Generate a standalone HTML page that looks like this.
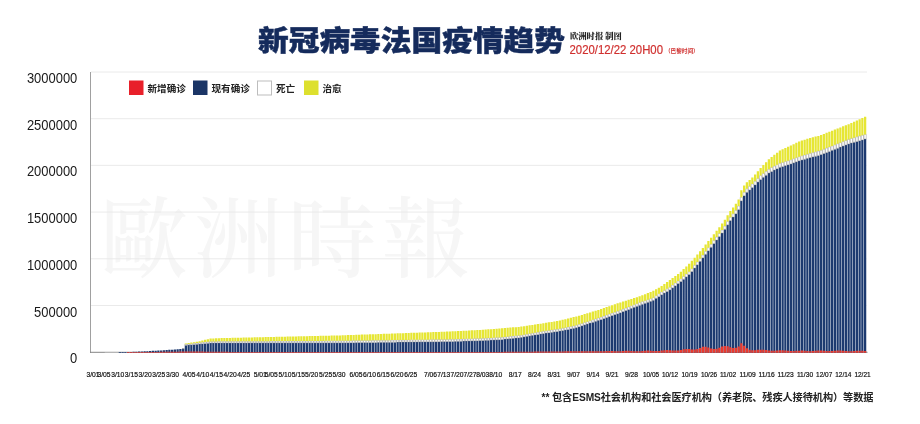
<!DOCTYPE html>
<html lang="zh"><head><meta charset="utf-8"><title>新冠病毒法国疫情趋势</title>
<style>
html,body{margin:0;padding:0;background:#fff}
body{width:920px;height:424px;overflow:hidden;position:relative;font-family:"Liberation Sans","Noto Sans CJK SC",sans-serif}
svg{position:absolute;left:0;top:0;display:block}
.t{font-family:"Liberation Sans","Noto Sans CJK SC",sans-serif}
.yl text{font-size:14px;fill:#1a1a1a;text-anchor:end}
.xl text{font-size:8.1px;fill:#111;stroke:#111;stroke-width:0.22px}
.g line{stroke:#e8e8e8;stroke-width:0.9}
.lg text{font-size:9.6px;fill:#222;font-weight:700}
</style></head><body>
<svg width="920" height="424" viewBox="0 0 920 424" class="t">
<rect width="920" height="424" fill="#fff"/>
<text x="100" y="270" font-family="'Liberation Serif','Noto Serif CJK SC',serif" font-weight="500" font-size="88" fill="#f6f6f6" textLength="370" lengthAdjust="spacing">歐洲時報</text>
<g class="g"><line x1="91" x2="867" y1="305.5" y2="305.5"/><line x1="91" x2="867" y1="258.8" y2="258.8"/><line x1="91" x2="867" y1="212.1" y2="212.1"/><line x1="91" x2="867" y1="165.4" y2="165.4"/><line x1="91" x2="867" y1="118.7" y2="118.7"/><line x1="91" x2="867" y1="72" y2="72"/></g>
<path d="M90.5 72V352.7" fill="none" stroke="#a0a0a0" stroke-width="1"/><path d="M90 352.3H867.5" fill="none" stroke="#777" stroke-width="0.9"/>
<path fill="#fff" d="M91 352.2V352.19h2.75V352.2zM93.75 352.2V352.18h2.75V352.2zM96.5 352.2V352.16h2.75V352.2zM99.25 352.2V352.15h2.75V352.2zM102 352.2V352.13h2.75V352.2zM104.75 352.2V352.12h2.75V352.2zM107.5 352.2V352.1h2.75V352.2zM110.25 352.2V352.09h2.75V352.2zM113 352.2V352.07h2.75V352.2zM115.75 352.2V352.06h2.75V352.2zM118.5 352.2V352.04h2.75V352.2zM121.25 352.2V352.03h2.75V352.2zM124 352.2V352.01h2.75V352.2zM126.75 352.2V351.99h2.75V352.2zM129.5 352.2V351.88h2.75V352.2zM132.25 352.2V351.77h2.75V352.2zM135 352.2V351.65h2.75V352.2zM137.75 352.2V351.54h2.75V352.2zM140.5 352.2V351.41h2.75V352.2zM143.25 352.2V351.27h2.75V352.2zM146 352.2V351.13h2.75V352.2zM148.75 352.2V350.99h2.75V352.2zM151.5 352.2V350.85h2.75V352.2zM154.25 352.2V350.7h2.75V352.2zM157 352.2V350.55h2.75V352.2zM159.75 352.2V350.41h2.75V352.2zM162.5 352.2V350.26h2.75V352.2zM165.25 352.2V350.07h2.75V352.2zM168 352.2V349.85h2.75V352.2zM170.75 352.2V349.63h2.75V352.2zM173.5 352.2V349.41h2.75V352.2zM176.25 352.2V349.18h2.75V352.2zM179 352.2V348.96h2.75V352.2zM181.75 352.2V348.73h2.75V352.2zM184.5 352.2V343.48h2.75V352.2zM187.25 352.2V343.03h2.75V352.2zM190 352.2V342.59h2.75V352.2zM192.75 352.2V342.15h2.75V352.2zM195.5 352.2V341.7h2.75V352.2zM198.25 352.2V341.26h2.75V352.2zM201 352.2V340.58h2.75V352.2zM203.75 352.2V339.87h2.75V352.2zM206.5 352.2V339.15h2.75V352.2zM209.25 352.2V338.57h2.75V352.2zM212 352.2V338.43h2.75V352.2zM214.75 352.2V338.29h2.75V352.2zM217.5 352.2V338.18h2.75V352.2zM220.25 352.2V338.12h2.75V352.2zM223 352.2V338.05h2.75V352.2zM225.75 352.2V337.99h2.75V352.2zM228.5 352.2V337.93h2.75V352.2zM231.25 352.2V337.86h2.75V352.2zM234 352.2V337.8h2.75V352.2zM236.75 352.2V337.74h2.75V352.2zM239.5 352.2V337.68h2.75V352.2zM242.25 352.2V337.61h2.75V352.2zM245 352.2V337.55h2.75V352.2zM247.75 352.2V337.49h2.75V352.2zM250.5 352.2V337.42h2.75V352.2zM253.25 352.2V337.36h2.75V352.2zM256 352.2V337.3h2.75V352.2zM258.75 352.2V337.23h2.75V352.2zM261.5 352.2V337.17h2.75V352.2zM264.25 352.2V337.11h2.75V352.2zM267 352.2V337.04h2.75V352.2zM269.75 352.2V336.98h2.75V352.2zM272.5 352.2V336.92h2.75V352.2zM275.25 352.2V336.85h2.75V352.2zM278 352.2V336.79h2.75V352.2zM280.75 352.2V336.73h2.75V352.2zM283.5 352.2V336.67h2.75V352.2zM286.25 352.2V336.6h2.75V352.2zM289 352.2V336.54h2.75V352.2zM291.75 352.2V336.48h2.75V352.2zM294.5 352.2V336.41h2.75V352.2zM297.25 352.2V336.35h2.75V352.2zM300 352.2V336.29h2.75V352.2zM302.75 352.2V336.22h2.75V352.2zM305.5 352.2V336.16h2.75V352.2zM308.25 352.2V336.1h2.75V352.2zM311 352.2V336.03h2.75V352.2zM313.75 352.2V335.97h2.75V352.2zM316.5 352.2V335.91h2.75V352.2zM319.25 352.2V335.84h2.75V352.2zM322 352.2V335.78h2.75V352.2zM324.75 352.2V335.72h2.75V352.2zM327.5 352.2V335.66h2.75V352.2zM330.25 352.2V335.59h2.75V352.2zM333 352.2V335.53h2.75V352.2zM335.75 352.2V335.47h2.75V352.2zM338.5 352.2V335.4h2.75V352.2zM341.25 352.2V335.31h2.75V352.2zM344 352.2V335.21h2.75V352.2zM346.75 352.2V335.11h2.75V352.2zM349.5 352.2V335.01h2.75V352.2zM352.25 352.2V334.92h2.75V352.2zM355 352.2V334.82h2.75V352.2zM357.75 352.2V334.72h2.75V352.2zM360.5 352.2V334.62h2.75V352.2zM363.25 352.2V334.53h2.75V352.2zM366 352.2V334.43h2.75V352.2zM368.75 352.2V334.33h2.75V352.2zM371.5 352.2V334.23h2.75V352.2zM374.25 352.2V334.14h2.75V352.2zM377 352.2V334.04h2.75V352.2zM379.75 352.2V333.94h2.75V352.2zM382.5 352.2V333.84h2.75V352.2zM385.25 352.2V333.75h2.75V352.2zM388 352.2V333.65h2.75V352.2zM390.75 352.2V333.55h2.75V352.2zM393.5 352.2V333.45h2.75V352.2zM396.25 352.2V333.36h2.75V352.2zM399 352.2V333.26h2.75V352.2zM401.75 352.2V333.16h2.75V352.2zM404.5 352.2V333.06h2.75V352.2zM407.25 352.2V332.97h2.75V352.2zM410 352.2V332.87h2.75V352.2zM412.75 352.2V332.77h2.75V352.2zM415.5 352.2V332.67h2.75V352.2zM418.25 352.2V332.58h2.75V352.2zM421 352.2V332.48h2.75V352.2zM423.75 352.2V332.38h2.75V352.2zM426.5 352.2V332.28h2.75V352.2zM429.25 352.2V332.19h2.75V352.2zM432 352.2V332.09h2.75V352.2zM434.75 352.2V331.99h2.75V352.2zM437.5 352.2V331.89h2.75V352.2zM440.25 352.2V331.8h2.75V352.2zM443 352.2V331.7h2.75V352.2zM445.75 352.2V331.6h2.75V352.2zM448.5 352.2V331.5h2.75V352.2zM451.25 352.2V331.36h2.75V352.2zM454 352.2V331.22h2.75V352.2zM456.75 352.2V331.08h2.75V352.2zM459.5 352.2V330.94h2.75V352.2zM462.25 352.2V330.8h2.75V352.2zM465 352.2V330.66h2.75V352.2zM467.75 352.2V330.51h2.75V352.2zM470.5 352.2V330.37h2.75V352.2zM473.25 352.2V330.23h2.75V352.2zM476 352.2V330.09h2.75V352.2zM478.75 352.2V329.95h2.75V352.2zM481.5 352.2V329.81h2.75V352.2zM484.25 352.2V329.58h2.75V352.2zM487 352.2V329.36h2.75V352.2zM489.75 352.2V329.13h2.75V352.2zM492.5 352.2V328.9h2.75V352.2zM495.25 352.2V328.68h2.75V352.2zM498 352.2V328.45h2.75V352.2zM500.75 352.2V328.23h2.75V352.2zM503.5 352.2V328.01h2.75V352.2zM506.25 352.2V327.79h2.75V352.2zM509 352.2V327.57h2.75V352.2zM511.75 352.2V327.35h2.75V352.2zM514.5 352.2V327.13h2.75V352.2zM517.25 352.2V326.91h2.75V352.2zM520 352.2V326.59h2.75V352.2zM522.75 352.2V326.18h2.75V352.2zM525.5 352.2V325.77h2.75V352.2zM528.25 352.2V325.36h2.75V352.2zM531 352.2V324.94h2.75V352.2zM533.75 352.2V324.53h2.75V352.2zM536.5 352.2V324.12h2.75V352.2zM539.25 352.2V323.7h2.75V352.2zM542 352.2V323.24h2.75V352.2zM544.75 352.2V322.79h2.75V352.2zM547.5 352.2V322.34h2.75V352.2zM550.25 352.2V321.88h2.75V352.2zM553 352.2V321.43h2.75V352.2zM555.75 352.2V320.97h2.75V352.2zM558.5 352.2V320.52h2.75V352.2zM561.25 352.2V319.83h2.75V352.2zM564 352.2V319.14h2.75V352.2zM566.75 352.2V318.44h2.75V352.2zM569.5 352.2V317.74h2.75V352.2zM572.25 352.2V317.05h2.75V352.2zM575 352.2V316.38h2.75V352.2zM577.75 352.2V315.71h2.75V352.2zM580.5 352.2V314.93h2.75V352.2zM583.25 352.2V314.09h2.75V352.2zM586 352.2V313.25h2.75V352.2zM588.75 352.2V312.41h2.75V352.2zM591.5 352.2V311.57h2.75V352.2zM594.25 352.2V310.73h2.75V352.2zM597 352.2V309.9h2.75V352.2zM599.75 352.2V309.01h2.75V352.2zM602.5 352.2V308.06h2.75V352.2zM605.25 352.2V307.11h2.75V352.2zM608 352.2V306.17h2.75V352.2zM610.75 352.2V305.22h2.75V352.2zM613.5 352.2V304.27h2.75V352.2zM616.25 352.2V303.32h2.75V352.2zM619 352.2V302.38h2.75V352.2zM621.75 352.2V301.52h2.75V352.2zM624.5 352.2V300.65h2.75V352.2zM627.25 352.2V299.78h2.75V352.2zM630 352.2V298.92h2.75V352.2zM632.75 352.2V298.05h2.75V352.2zM635.5 352.2V297.18h2.75V352.2zM638.25 352.2V296.32h2.75V352.2zM641 352.2V295.25h2.75V352.2zM643.75 352.2V294.15h2.75V352.2zM646.5 352.2V293.05h2.75V352.2zM649.25 352.2V291.95h2.75V352.2zM652 352.2V290.8h2.75V352.2zM654.75 352.2V289.3h2.75V352.2zM657.5 352.2V287.81h2.75V352.2zM660.25 352.2V286.03h2.75V352.2zM663 352.2V284.05h2.75V352.2zM665.75 352.2V282.07h2.75V352.2zM668.5 352.2V280.09h2.75V352.2zM671.25 352.2V278.06h2.75V352.2zM674 352.2V276.02h2.75V352.2zM676.75 352.2V273.99h2.75V352.2zM679.5 352.2V271.76h2.75V352.2zM682.25 352.2V269.12h2.75V352.2zM685 352.2V266.48h2.75V352.2zM687.75 352.2V263.84h2.75V352.2zM690.5 352.2V260.84h2.75V352.2zM693.25 352.2V257.68h2.75V352.2zM696 352.2V254.52h2.75V352.2zM698.75 352.2V251.34h2.75V352.2zM701.5 352.2V247.93h2.75V352.2zM704.25 352.2V244.52h2.75V352.2zM707 352.2V241.1h2.75V352.2zM709.75 352.2V237.69h2.75V352.2zM712.5 352.2V234.19h2.75V352.2zM715.25 352.2V230.66h2.75V352.2zM718 352.2V227.14h2.75V352.2zM720.75 352.2V223.61h2.75V352.2zM723.5 352.2V219.79h2.75V352.2zM726.25 352.2V215.34h2.75V352.2zM729 352.2V211.01h2.75V352.2zM731.75 352.2V207.41h2.75V352.2zM734.5 352.2V203.82h2.75V352.2zM737.25 352.2V199.46h2.75V352.2zM740 352.2V190.16h2.75V352.2zM742.75 352.2V185.49h2.75V352.2zM745.5 352.2V182.36h2.75V352.2zM748.25 352.2V179.95h2.75V352.2zM751 352.2V177.55h2.75V352.2zM753.75 352.2V174.48h2.75V352.2zM756.5 352.2V171.21h2.75V352.2zM759.25 352.2V167.95h2.75V352.2zM762 352.2V165.05h2.75V352.2zM764.75 352.2V162.2h2.75V352.2zM767.5 352.2V159.36h2.75V352.2zM770.25 352.2V156.93h2.75V352.2zM773 352.2V154.79h2.75V352.2zM775.75 352.2V152.64h2.75V352.2zM778.5 352.2V150.5h2.75V352.2zM781.25 352.2V149.19h2.75V352.2zM784 352.2V147.93h2.75V352.2zM786.75 352.2V146.66h2.75V352.2zM789.5 352.2V145.4h2.75V352.2zM792.25 352.2V144.13h2.75V352.2zM795 352.2V142.87h2.75V352.2zM797.75 352.2V141.6h2.75V352.2zM800.5 352.2V140.6h2.75V352.2zM803.25 352.2V139.72h2.75V352.2zM806 352.2V138.84h2.75V352.2zM808.75 352.2V137.97h2.75V352.2zM811.5 352.2V137.28h2.75V352.2zM814.25 352.2V136.59h2.75V352.2zM817 352.2V135.91h2.75V352.2zM819.75 352.2V135.05h2.75V352.2zM822.5 352.2V133.96h2.75V352.2zM825.25 352.2V132.87h2.75V352.2zM828 352.2V131.78h2.75V352.2zM830.75 352.2V130.69h2.75V352.2zM833.5 352.2V129.6h2.75V352.2zM836.25 352.2V128.51h2.75V352.2zM839 352.2V127.42h2.75V352.2zM841.75 352.2V126.33h2.75V352.2zM844.5 352.2V125.24h2.75V352.2zM847.25 352.2V124.15h2.75V352.2zM850 352.2V122.97h2.75V352.2zM852.75 352.2V121.7h2.75V352.2zM855.5 352.2V120.43h2.75V352.2zM858.25 352.2V119.17h2.75V352.2zM861 352.2V117.9h2.75V352.2zM863.75 352.2V116.63h2.75V352.2z"/>
<path fill="#1d3a70" d="M118.75 352.7V352.04h2.25V352.7zM121.5 352.7V352.03h2.25V352.7zM124.25 352.7V352.01h2.25V352.7zM127 352.7V351.99h2.25V352.7zM129.75 352.7V351.88h2.25V352.7zM132.5 352.7V351.77h2.25V352.7zM135.25 352.7V351.65h2.25V352.7zM138 352.7V351.54h2.25V352.7zM140.75 352.7V351.41h2.25V352.7zM143.5 352.7V351.27h2.25V352.7zM146.25 352.7V351.13h2.25V352.7zM149 352.7V350.99h2.25V352.7zM151.75 352.7V350.85h2.25V352.7zM154.5 352.7V350.7h2.25V352.7zM157.25 352.7V350.55h2.25V352.7zM160 352.7V350.41h2.25V352.7zM162.75 352.7V350.26h2.25V352.7zM165.5 352.7V350.07h2.25V352.7zM168.25 352.7V349.85h2.25V352.7zM171 352.7V349.63h2.25V352.7zM173.75 352.7V349.41h2.25V352.7zM176.5 352.7V349.18h2.25V352.7zM179.25 352.7V348.96h2.25V352.7zM182 352.7V348.73h2.25V352.7zM184.75 352.7V345.27h2.25V352.7zM187.5 352.7V345h2.25V352.7zM190.25 352.7V344.73h2.25V352.7zM193 352.7V344.47h2.25V352.7zM195.75 352.7V344.2h2.25V352.7zM198.5 352.7V343.94h2.25V352.7zM201.25 352.7V343.69h2.25V352.7zM204 352.7V343.44h2.25V352.7zM206.75 352.7V343.19h2.25V352.7zM209.5 352.7V342.99h2.25V352.7zM212.25 352.7V342.96h2.25V352.7zM215 352.7V342.92h2.25V352.7zM217.75 352.7V342.9h2.25V352.7zM220.5 352.7V342.9h2.25V352.7zM223.25 352.7V342.89h2.25V352.7zM226 352.7V342.89h2.25V352.7zM228.75 352.7V342.89h2.25V352.7zM231.5 352.7V342.89h2.25V352.7zM234.25 352.7V342.89h2.25V352.7zM237 352.7V342.88h2.25V352.7zM239.75 352.7V342.88h2.25V352.7zM242.5 352.7V342.88h2.25V352.7zM245.25 352.7V342.88h2.25V352.7zM248 352.7V342.87h2.25V352.7zM250.75 352.7V342.87h2.25V352.7zM253.5 352.7V342.87h2.25V352.7zM256.25 352.7V342.87h2.25V352.7zM259 352.7V342.87h2.25V352.7zM261.75 352.7V342.86h2.25V352.7zM264.5 352.7V342.86h2.25V352.7zM267.25 352.7V342.86h2.25V352.7zM270 352.7V342.86h2.25V352.7zM272.75 352.7V342.85h2.25V352.7zM275.5 352.7V342.85h2.25V352.7zM278.25 352.7V342.85h2.25V352.7zM281 352.7V342.85h2.25V352.7zM283.75 352.7V342.85h2.25V352.7zM286.5 352.7V342.84h2.25V352.7zM289.25 352.7V342.84h2.25V352.7zM292 352.7V342.84h2.25V352.7zM294.75 352.7V342.84h2.25V352.7zM297.5 352.7V342.83h2.25V352.7zM300.25 352.7V342.83h2.25V352.7zM303 352.7V342.83h2.25V352.7zM305.75 352.7V342.83h2.25V352.7zM308.5 352.7V342.82h2.25V352.7zM311.25 352.7V342.82h2.25V352.7zM314 352.7V342.82h2.25V352.7zM316.75 352.7V342.82h2.25V352.7zM319.5 352.7V342.82h2.25V352.7zM322.25 352.7V342.81h2.25V352.7zM325 352.7V342.81h2.25V352.7zM327.75 352.7V342.81h2.25V352.7zM330.5 352.7V342.81h2.25V352.7zM333.25 352.7V342.8h2.25V352.7zM336 352.7V342.8h2.25V352.7zM338.75 352.7V342.8h2.25V352.7zM341.5 352.7V342.77h2.25V352.7zM344.25 352.7V342.74h2.25V352.7zM347 352.7V342.7h2.25V352.7zM349.75 352.7V342.67h2.25V352.7zM352.5 352.7V342.64h2.25V352.7zM355.25 352.7V342.61h2.25V352.7zM358 352.7V342.57h2.25V352.7zM360.75 352.7V342.54h2.25V352.7zM363.5 352.7V342.51h2.25V352.7zM366.25 352.7V342.48h2.25V352.7zM369 352.7V342.44h2.25V352.7zM371.75 352.7V342.41h2.25V352.7zM374.5 352.7V342.38h2.25V352.7zM377.25 352.7V342.35h2.25V352.7zM380 352.7V342.31h2.25V352.7zM382.75 352.7V342.28h2.25V352.7zM385.5 352.7V342.25h2.25V352.7zM388.25 352.7V342.22h2.25V352.7zM391 352.7V342.18h2.25V352.7zM393.75 352.7V342.15h2.25V352.7zM396.5 352.7V342.12h2.25V352.7zM399.25 352.7V342.09h2.25V352.7zM402 352.7V342.05h2.25V352.7zM404.75 352.7V342.02h2.25V352.7zM407.5 352.7V341.99h2.25V352.7zM410.25 352.7V341.96h2.25V352.7zM413 352.7V341.92h2.25V352.7zM415.75 352.7V341.89h2.25V352.7zM418.5 352.7V341.86h2.25V352.7zM421.25 352.7V341.83h2.25V352.7zM424 352.7V341.79h2.25V352.7zM426.75 352.7V341.76h2.25V352.7zM429.5 352.7V341.73h2.25V352.7zM432.25 352.7V341.7h2.25V352.7zM435 352.7V341.66h2.25V352.7zM437.75 352.7V341.63h2.25V352.7zM440.5 352.7V341.6h2.25V352.7zM443.25 352.7V341.57h2.25V352.7zM446 352.7V341.53h2.25V352.7zM448.75 352.7V341.5h2.25V352.7zM451.5 352.7V341.42h2.25V352.7zM454.25 352.7V341.34h2.25V352.7zM457 352.7V341.25h2.25V352.7zM459.75 352.7V341.17h2.25V352.7zM462.5 352.7V341.09h2.25V352.7zM465.25 352.7V341h2.25V352.7zM468 352.7V340.92h2.25V352.7zM470.75 352.7V340.84h2.25V352.7zM473.5 352.7V340.75h2.25V352.7zM476.25 352.7V340.67h2.25V352.7zM479 352.7V340.59h2.25V352.7zM481.75 352.7V340.5h2.25V352.7zM484.5 352.7V340.36h2.25V352.7zM487.25 352.7V340.22h2.25V352.7zM490 352.7V340.07h2.25V352.7zM492.75 352.7V339.92h2.25V352.7zM495.5 352.7V339.78h2.25V352.7zM498.25 352.7V339.63h2.25V352.7zM501 352.7V339.39h2.25V352.7zM503.75 352.7V339.11h2.25V352.7zM506.5 352.7V338.84h2.25V352.7zM509.25 352.7V338.56h2.25V352.7zM512 352.7V338.29h2.25V352.7zM514.75 352.7V338.01h2.25V352.7zM517.5 352.7V337.74h2.25V352.7zM520.25 352.7V337.35h2.25V352.7zM523 352.7V336.86h2.25V352.7zM525.75 352.7V336.36h2.25V352.7zM528.5 352.7V335.87h2.25V352.7zM531.25 352.7V335.37h2.25V352.7zM534 352.7V334.88h2.25V352.7zM536.75 352.7V334.38h2.25V352.7zM539.5 352.7V333.91h2.25V352.7zM542.25 352.7V333.49h2.25V352.7zM545 352.7V333.08h2.25V352.7zM547.75 352.7V332.67h2.25V352.7zM550.5 352.7V332.26h2.25V352.7zM553.25 352.7V331.84h2.25V352.7zM556 352.7V331.43h2.25V352.7zM558.75 352.7V331.02h2.25V352.7zM561.5 352.7V330.48h2.25V352.7zM564.25 352.7V329.93h2.25V352.7zM567 352.7V329.38h2.25V352.7zM569.75 352.7V328.82h2.25V352.7zM572.5 352.7V328.22h2.25V352.7zM575.25 352.7V327.44h2.25V352.7zM578 352.7V326.65h2.25V352.7zM580.75 352.7V325.78h2.25V352.7zM583.5 352.7V324.87h2.25V352.7zM586.25 352.7V323.97h2.25V352.7zM589 352.7V323.06h2.25V352.7zM591.75 352.7V322.15h2.25V352.7zM594.5 352.7V321.24h2.25V352.7zM597.25 352.7V320.34h2.25V352.7zM600 352.7V319.41h2.25V352.7zM602.75 352.7V318.44h2.25V352.7zM605.5 352.7V317.48h2.25V352.7zM608.25 352.7V316.52h2.25V352.7zM611 352.7V315.56h2.25V352.7zM613.75 352.7V314.59h2.25V352.7zM616.5 352.7V313.63h2.25V352.7zM619.25 352.7V312.65h2.25V352.7zM622 352.7V311.58h2.25V352.7zM624.75 352.7V310.51h2.25V352.7zM627.5 352.7V309.44h2.25V352.7zM630.25 352.7V308.36h2.25V352.7zM633 352.7V307.29h2.25V352.7zM635.75 352.7V306.22h2.25V352.7zM638.5 352.7V305.15h2.25V352.7zM641.25 352.7V304.18h2.25V352.7zM644 352.7V303.23h2.25V352.7zM646.75 352.7V302.27h2.25V352.7zM649.5 352.7V301.32h2.25V352.7zM652.25 352.7V300.24h2.25V352.7zM655 352.7V298.31h2.25V352.7zM657.75 352.7V296.39h2.25V352.7zM660.5 352.7V294.66h2.25V352.7zM663.25 352.7V293.06h2.25V352.7zM666 352.7V291.47h2.25V352.7zM668.75 352.7V289.87h2.25V352.7zM671.5 352.7V287.81h2.25V352.7zM674.25 352.7V285.71h2.25V352.7zM677 352.7V283.62h2.25V352.7zM679.75 352.7V281.46h2.25V352.7zM682.5 352.7V279.15h2.25V352.7zM685.25 352.7V276.85h2.25V352.7zM688 352.7V274.54h2.25V352.7zM690.75 352.7V271.49h2.25V352.7zM693.5 352.7V268.11h2.25V352.7zM696.25 352.7V264.73h2.25V352.7zM699 352.7V261.34h2.25V352.7zM701.75 352.7V257.79h2.25V352.7zM704.5 352.7V254.23h2.25V352.7zM707.25 352.7V250.68h2.25V352.7zM710 352.7V247.13h2.25V352.7zM712.75 352.7V243.61h2.25V352.7zM715.5 352.7V240.1h2.25V352.7zM718.25 352.7V236.6h2.25V352.7zM721 352.7V233.09h2.25V352.7zM723.75 352.7V229.29h2.25V352.7zM726.5 352.7V224.84h2.25V352.7zM729.25 352.7V220.53h2.25V352.7zM732 352.7V217.11h2.25V352.7zM734.75 352.7V213.68h2.25V352.7zM737.5 352.7V209.43h2.25V352.7zM740.25 352.7V200.8h2.25V352.7zM743 352.7V195.64h2.25V352.7zM745.75 352.7V192.36h2.25V352.7zM748.5 352.7V189.95h2.25V352.7zM751.25 352.7V187.55h2.25V352.7zM754 352.7V184.88h2.25V352.7zM756.75 352.7V182.12h2.25V352.7zM759.5 352.7V179.38h2.25V352.7zM762.25 352.7V177.21h2.25V352.7zM765 352.7V175.13h2.25V352.7zM767.75 352.7V173.05h2.25V352.7zM770.5 352.7V171.39h2.25V352.7zM773.25 352.7V170.01h2.25V352.7zM776 352.7V168.64h2.25V352.7zM778.75 352.7V167.26h2.25V352.7zM781.5 352.7V166.41h2.25V352.7zM784.25 352.7V165.59h2.25V352.7zM787 352.7V164.76h2.25V352.7zM789.75 352.7V163.88h2.25V352.7zM792.5 352.7V162.86h2.25V352.7zM795.25 352.7V161.84h2.25V352.7zM798 352.7V160.82h2.25V352.7zM800.75 352.7V159.96h2.25V352.7zM803.5 352.7V159.16h2.25V352.7zM806.25 352.7V158.36h2.25V352.7zM809 352.7V157.57h2.25V352.7zM811.75 352.7V156.85h2.25V352.7zM814.5 352.7V156.14h2.25V352.7zM817.25 352.7V155.42h2.25V352.7zM820 352.7V154.56h2.25V352.7zM822.75 352.7V153.5h2.25V352.7zM825.5 352.7V152.44h2.25V352.7zM828.25 352.7V151.38h2.25V352.7zM831 352.7V150.31h2.25V352.7zM833.75 352.7V149.25h2.25V352.7zM836.5 352.7V148.19h2.25V352.7zM839.25 352.7V147.12h2.25V352.7zM842 352.7V146.06h2.25V352.7zM844.75 352.7V145h2.25V352.7zM847.5 352.7V143.93h2.25V352.7zM850.25 352.7V143.01h2.25V352.7zM853 352.7V142.22h2.25V352.7zM855.75 352.7V141.44h2.25V352.7zM858.5 352.7V140.66h2.25V352.7zM861.25 352.7V139.88h2.25V352.7zM864 352.7V139.09h2.25V352.7z"/>
<path fill="#fff" stroke="#8c8c8c" stroke-width="0.45" d="M182 348.73V348.67h2.25V348.73zM184.75 345.27V344.35h2.25V345.27zM187.5 345V344.01h2.25V345zM190.25 344.73V343.68h2.25V344.73zM193 344.47V343.35h2.25V344.47zM195.75 344.2V343.02h2.25V344.2zM198.5 343.94V342.69h2.25V343.94zM201.25 343.69V342.37h2.25V343.69zM204 343.44V342.06h2.25V343.44zM206.75 343.19V341.74h2.25V343.19zM209.5 342.99V341.49h2.25V342.99zM212.25 342.96V341.44h2.25V342.96zM215 342.92V341.4h2.25V342.92zM217.75 342.9V341.37h2.25V342.9zM220.5 342.9V341.35h2.25V342.9zM223.25 342.89V341.34h2.25V342.89zM226 342.89V341.33h2.25V342.89zM228.75 342.89V341.31h2.25V342.89zM231.5 342.89V341.3h2.25V342.89zM234.25 342.89V341.29h2.25V342.89zM237 342.88V341.28h2.25V342.88zM239.75 342.88V341.26h2.25V342.88zM242.5 342.88V341.25h2.25V342.88zM245.25 342.88V341.24h2.25V342.88zM248 342.87V341.22h2.25V342.87zM250.75 342.87V341.21h2.25V342.87zM253.5 342.87V341.2h2.25V342.87zM256.25 342.87V341.19h2.25V342.87zM259 342.87V341.17h2.25V342.87zM261.75 342.86V341.16h2.25V342.86zM264.5 342.86V341.15h2.25V342.86zM267.25 342.86V341.13h2.25V342.86zM270 342.86V341.12h2.25V342.86zM272.75 342.85V341.11h2.25V342.85zM275.5 342.85V341.1h2.25V342.85zM278.25 342.85V341.08h2.25V342.85zM281 342.85V341.07h2.25V342.85zM283.75 342.85V341.06h2.25V342.85zM286.5 342.84V341.04h2.25V342.84zM289.25 342.84V341.03h2.25V342.84zM292 342.84V341.02h2.25V342.84zM294.75 342.84V341.01h2.25V342.84zM297.5 342.83V340.99h2.25V342.83zM300.25 342.83V340.98h2.25V342.83zM303 342.83V340.97h2.25V342.83zM305.75 342.83V340.95h2.25V342.83zM308.5 342.82V340.94h2.25V342.82zM311.25 342.82V340.93h2.25V342.82zM314 342.82V340.92h2.25V342.82zM316.75 342.82V340.9h2.25V342.82zM319.5 342.82V340.89h2.25V342.82zM322.25 342.81V340.88h2.25V342.81zM325 342.81V340.86h2.25V342.81zM327.75 342.81V340.85h2.25V342.81zM330.5 342.81V340.84h2.25V342.81zM333.25 342.8V340.83h2.25V342.8zM336 342.8V340.81h2.25V342.8zM338.75 342.8V340.8h2.25V342.8zM341.5 342.77V340.77h2.25V342.77zM344.25 342.74V340.73h2.25V342.74zM347 342.7V340.69h2.25V342.7zM349.75 342.67V340.66h2.25V342.67zM352.5 342.64V340.62h2.25V342.64zM355.25 342.61V340.59h2.25V342.61zM358 342.57V340.55h2.25V342.57zM360.75 342.54V340.51h2.25V342.54zM363.5 342.51V340.48h2.25V342.51zM366.25 342.48V340.44h2.25V342.48zM369 342.44V340.41h2.25V342.44zM371.75 342.41V340.37h2.25V342.41zM374.5 342.38V340.33h2.25V342.38zM377.25 342.35V340.3h2.25V342.35zM380 342.31V340.26h2.25V342.31zM382.75 342.28V340.23h2.25V342.28zM385.5 342.25V340.19h2.25V342.25zM388.25 342.22V340.15h2.25V342.22zM391 342.18V340.12h2.25V342.18zM393.75 342.15V340.08h2.25V342.15zM396.5 342.12V340.05h2.25V342.12zM399.25 342.09V340.01h2.25V342.09zM402 342.05V339.98h2.25V342.05zM404.75 342.02V339.94h2.25V342.02zM407.5 341.99V339.9h2.25V341.99zM410.25 341.96V339.87h2.25V341.96zM413 341.92V339.83h2.25V341.92zM415.75 341.89V339.8h2.25V341.89zM418.5 341.86V339.76h2.25V341.86zM421.25 341.83V339.72h2.25V341.83zM424 341.79V339.69h2.25V341.79zM426.75 341.76V339.65h2.25V341.76zM429.5 341.73V339.62h2.25V341.73zM432.25 341.7V339.58h2.25V341.7zM435 341.66V339.54h2.25V341.66zM437.75 341.63V339.51h2.25V341.63zM440.5 341.6V339.47h2.25V341.6zM443.25 341.57V339.44h2.25V341.57zM446 341.53V339.4h2.25V341.53zM448.75 341.5V339.36h2.25V341.5zM451.5 341.42V339.28h2.25V341.42zM454.25 341.34V339.19h2.25V341.34zM457 341.25V339.11h2.25V341.25zM459.75 341.17V339.02h2.25V341.17zM462.5 341.09V338.93h2.25V341.09zM465.25 341V338.85h2.25V341zM468 340.92V338.76h2.25V340.92zM470.75 340.84V338.67h2.25V340.84zM473.5 340.75V338.59h2.25V340.75zM476.25 340.67V338.5h2.25V340.67zM479 340.59V338.41h2.25V340.59zM481.75 340.5V338.33h2.25V340.5zM484.5 340.36V338.18h2.25V340.36zM487.25 340.22V338.03h2.25V340.22zM490 340.07V337.88h2.25V340.07zM492.75 339.92V337.73h2.25V339.92zM495.5 339.78V337.58h2.25V339.78zM498.25 339.63V337.43h2.25V339.63zM501 339.39V337.18h2.25V339.39zM503.75 339.11V336.91h2.25V339.11zM506.5 338.84V336.63h2.25V338.84zM509.25 338.56V336.35h2.25V338.56zM512 338.29V336.07h2.25V338.29zM514.75 338.01V335.79h2.25V338.01zM517.5 337.74V335.51h2.25V337.74zM520.25 337.35V335.13h2.25V337.35zM523 336.86V334.63h2.25V336.86zM525.75 336.36V334.13h2.25V336.36zM528.5 335.87V333.63h2.25V335.87zM531.25 335.37V333.13h2.25V335.37zM534 334.88V332.63h2.25V334.88zM536.75 334.38V332.14h2.25V334.38zM539.5 333.91V331.66h2.25V333.91zM542.25 333.49V331.24h2.25V333.49zM545 333.08V330.82h2.25V333.08zM547.75 332.67V330.41h2.25V332.67zM550.5 332.26V329.99h2.25V332.26zM553.25 331.84V329.58h2.25V331.84zM556 331.43V329.16h2.25V331.43zM558.75 331.02V328.74h2.25V331.02zM561.5 330.48V328.2h2.25V330.48zM564.25 329.93V327.64h2.25V329.93zM567 329.38V327.09h2.25V329.38zM569.75 328.82V326.54h2.25V328.82zM572.5 328.22V325.93h2.25V328.22zM575.25 327.44V325.14h2.25V327.44zM578 326.65V324.35h2.25V326.65zM580.75 325.78V323.47h2.25V325.78zM583.5 324.87V322.55h2.25V324.87zM586.25 323.97V321.64h2.25V323.97zM589 323.06V320.72h2.25V323.06zM591.75 322.15V319.8h2.25V322.15zM594.5 321.24V318.88h2.25V321.24zM597.25 320.34V317.96h2.25V320.34zM600 319.41V317.02h2.25V319.41zM602.75 318.44V316.04h2.25V318.44zM605.5 317.48V315.07h2.25V317.48zM608.25 316.52V314.1h2.25V316.52zM611 315.56V313.12h2.25V315.56zM613.75 314.59V312.15h2.25V314.59zM616.5 313.63V311.17h2.25V313.63zM619.25 312.65V310.19h2.25V312.65zM622 311.58V309.1h2.25V311.58zM624.75 310.51V308.02h2.25V310.51zM627.5 309.44V306.93h2.25V309.44zM630.25 308.36V305.85h2.25V308.36zM633 307.29V304.77h2.25V307.29zM635.75 306.22V303.68h2.25V306.22zM638.5 305.15V302.6h2.25V305.15zM641.25 304.18V301.62h2.25V304.18zM644 303.23V300.65h2.25V303.23zM646.75 302.27V299.69h2.25V302.27zM649.5 301.32V298.73h2.25V301.32zM652.25 300.24V297.63h2.25V300.24zM655 298.31V295.7h2.25V298.31zM657.75 296.39V293.76h2.25V296.39zM660.5 294.66V292.02h2.25V294.66zM663.25 293.06V290.41h2.25V293.06zM666 291.47V288.8h2.25V291.47zM668.75 289.87V287.2h2.25V289.87zM671.5 287.81V285.12h2.25V287.81zM674.25 285.71V283.02h2.25V285.71zM677 283.62V280.92h2.25V283.62zM679.75 281.46V278.74h2.25V281.46zM682.5 279.15V276.42h2.25V279.15zM685.25 276.85V274.1h2.25V276.85zM688 274.54V271.78h2.25V274.54zM690.75 271.49V268.73h2.25V271.49zM693.5 268.11V265.33h2.25V268.11zM696.25 264.73V261.94h2.25V264.73zM699 261.34V258.54h2.25V261.34zM701.75 257.79V254.94h2.25V257.79zM704.5 254.23V251.35h2.25V254.23zM707.25 250.68V247.75h2.25V250.68zM710 247.13V244.16h2.25V247.13zM712.75 243.61V240.59h2.25V243.61zM715.5 240.1V237.04h2.25V240.1zM718.25 236.6V233.49h2.25V236.6zM721 233.09V229.94h2.25V233.09zM723.75 229.29V226.09h2.25V229.29zM726.5 224.84V221.61h2.25V224.84zM729.25 220.53V217.26h2.25V220.53zM732 217.11V213.79h2.25V217.11zM734.75 213.68V210.32h2.25V213.68zM737.5 209.43V206.02h2.25V209.43zM740.25 200.8V197.35h2.25V200.8zM743 195.64V192.15h2.25V195.64zM745.75 192.36V188.82h2.25V192.36zM748.5 189.95V186.37h2.25V189.95zM751.25 187.55V183.92h2.25V187.55zM754 184.88V181.21h2.25V184.88zM756.75 182.12V178.42h2.25V182.12zM759.5 179.38V175.62h2.25V179.38zM762.25 177.21V173.41h2.25V177.21zM765 175.13V171.29h2.25V175.13zM767.75 173.05V169.17h2.25V173.05zM770.5 171.39V167.47h2.25V171.39zM773.25 170.01V166.08h2.25V170.01zM776 168.64V164.68h2.25V168.64zM778.75 167.26V163.28h2.25V167.26zM781.5 166.41V162.41h2.25V166.41zM784.25 165.59V161.56h2.25V165.59zM787 164.76V160.71h2.25V164.76zM789.75 163.88V159.8h2.25V163.88zM792.5 162.86V158.76h2.25V162.86zM795.25 161.84V157.72h2.25V161.84zM798 160.82V156.68h2.25V160.82zM800.75 159.96V155.79h2.25V159.96zM803.5 159.16V154.97h2.25V159.16zM806.25 158.36V154.15h2.25V158.36zM809 157.57V153.33h2.25V157.57zM811.75 156.85V152.6h2.25V156.85zM814.5 156.14V151.86h2.25V156.14zM817.25 155.42V151.12h2.25V155.42zM820 154.56V150.24h2.25V154.56zM822.75 153.5V149.16h2.25V153.5zM825.5 152.44V148.07h2.25V152.44zM828.25 151.38V146.98h2.25V151.38zM831 150.31V145.9h2.25V150.31zM833.75 149.25V144.81h2.25V149.25zM836.5 148.19V143.72h2.25V148.19zM839.25 147.12V142.64h2.25V147.12zM842 146.06V141.55h2.25V146.06zM844.75 145V140.47h2.25V145zM847.5 143.93V139.38h2.25V143.93zM850.25 143.01V138.43h2.25V143.01zM853 142.22V137.63h2.25V142.22zM855.75 141.44V136.82h2.25V141.44zM858.5 140.66V136.02h2.25V140.66zM861.25 139.88V135.21h2.25V139.88zM864 139.09V134.4h2.25V139.09z"/>
<path fill="#e6e634" d="M184.75 344.35V343.48h2.25V344.35zM187.5 344.01V343.03h2.25V344.01zM190.25 343.68V342.59h2.25V343.68zM193 343.35V342.15h2.25V343.35zM195.75 343.02V341.7h2.25V343.02zM198.5 342.69V341.26h2.25V342.69zM201.25 342.37V340.58h2.25V342.37zM204 342.06V339.87h2.25V342.06zM206.75 341.74V339.15h2.25V341.74zM209.5 341.49V338.57h2.25V341.49zM212.25 341.44V338.43h2.25V341.44zM215 341.4V338.29h2.25V341.4zM217.75 341.37V338.18h2.25V341.37zM220.5 341.35V338.12h2.25V341.35zM223.25 341.34V338.05h2.25V341.34zM226 341.33V337.99h2.25V341.33zM228.75 341.31V337.93h2.25V341.31zM231.5 341.3V337.86h2.25V341.3zM234.25 341.29V337.8h2.25V341.29zM237 341.28V337.74h2.25V341.28zM239.75 341.26V337.68h2.25V341.26zM242.5 341.25V337.61h2.25V341.25zM245.25 341.24V337.55h2.25V341.24zM248 341.22V337.49h2.25V341.22zM250.75 341.21V337.42h2.25V341.21zM253.5 341.2V337.36h2.25V341.2zM256.25 341.19V337.3h2.25V341.19zM259 341.17V337.23h2.25V341.17zM261.75 341.16V337.17h2.25V341.16zM264.5 341.15V337.11h2.25V341.15zM267.25 341.13V337.04h2.25V341.13zM270 341.12V336.98h2.25V341.12zM272.75 341.11V336.92h2.25V341.11zM275.5 341.1V336.85h2.25V341.1zM278.25 341.08V336.79h2.25V341.08zM281 341.07V336.73h2.25V341.07zM283.75 341.06V336.67h2.25V341.06zM286.5 341.04V336.6h2.25V341.04zM289.25 341.03V336.54h2.25V341.03zM292 341.02V336.48h2.25V341.02zM294.75 341.01V336.41h2.25V341.01zM297.5 340.99V336.35h2.25V340.99zM300.25 340.98V336.29h2.25V340.98zM303 340.97V336.22h2.25V340.97zM305.75 340.95V336.16h2.25V340.95zM308.5 340.94V336.1h2.25V340.94zM311.25 340.93V336.03h2.25V340.93zM314 340.92V335.97h2.25V340.92zM316.75 340.9V335.91h2.25V340.9zM319.5 340.89V335.84h2.25V340.89zM322.25 340.88V335.78h2.25V340.88zM325 340.86V335.72h2.25V340.86zM327.75 340.85V335.66h2.25V340.85zM330.5 340.84V335.59h2.25V340.84zM333.25 340.83V335.53h2.25V340.83zM336 340.81V335.47h2.25V340.81zM338.75 340.8V335.4h2.25V340.8zM341.5 340.77V335.31h2.25V340.77zM344.25 340.73V335.21h2.25V340.73zM347 340.69V335.11h2.25V340.69zM349.75 340.66V335.01h2.25V340.66zM352.5 340.62V334.92h2.25V340.62zM355.25 340.59V334.82h2.25V340.59zM358 340.55V334.72h2.25V340.55zM360.75 340.51V334.62h2.25V340.51zM363.5 340.48V334.53h2.25V340.48zM366.25 340.44V334.43h2.25V340.44zM369 340.41V334.33h2.25V340.41zM371.75 340.37V334.23h2.25V340.37zM374.5 340.33V334.14h2.25V340.33zM377.25 340.3V334.04h2.25V340.3zM380 340.26V333.94h2.25V340.26zM382.75 340.23V333.84h2.25V340.23zM385.5 340.19V333.75h2.25V340.19zM388.25 340.15V333.65h2.25V340.15zM391 340.12V333.55h2.25V340.12zM393.75 340.08V333.45h2.25V340.08zM396.5 340.05V333.36h2.25V340.05zM399.25 340.01V333.26h2.25V340.01zM402 339.98V333.16h2.25V339.98zM404.75 339.94V333.06h2.25V339.94zM407.5 339.9V332.97h2.25V339.9zM410.25 339.87V332.87h2.25V339.87zM413 339.83V332.77h2.25V339.83zM415.75 339.8V332.67h2.25V339.8zM418.5 339.76V332.58h2.25V339.76zM421.25 339.72V332.48h2.25V339.72zM424 339.69V332.38h2.25V339.69zM426.75 339.65V332.28h2.25V339.65zM429.5 339.62V332.19h2.25V339.62zM432.25 339.58V332.09h2.25V339.58zM435 339.54V331.99h2.25V339.54zM437.75 339.51V331.89h2.25V339.51zM440.5 339.47V331.8h2.25V339.47zM443.25 339.44V331.7h2.25V339.44zM446 339.4V331.6h2.25V339.4zM448.75 339.36V331.5h2.25V339.36zM451.5 339.28V331.36h2.25V339.28zM454.25 339.19V331.22h2.25V339.19zM457 339.11V331.08h2.25V339.11zM459.75 339.02V330.94h2.25V339.02zM462.5 338.93V330.8h2.25V338.93zM465.25 338.85V330.66h2.25V338.85zM468 338.76V330.51h2.25V338.76zM470.75 338.67V330.37h2.25V338.67zM473.5 338.59V330.23h2.25V338.59zM476.25 338.5V330.09h2.25V338.5zM479 338.41V329.95h2.25V338.41zM481.75 338.33V329.81h2.25V338.33zM484.5 338.18V329.58h2.25V338.18zM487.25 338.03V329.36h2.25V338.03zM490 337.88V329.13h2.25V337.88zM492.75 337.73V328.9h2.25V337.73zM495.5 337.58V328.68h2.25V337.58zM498.25 337.43V328.45h2.25V337.43zM501 337.18V328.23h2.25V337.18zM503.75 336.91V328.01h2.25V336.91zM506.5 336.63V327.79h2.25V336.63zM509.25 336.35V327.57h2.25V336.35zM512 336.07V327.35h2.25V336.07zM514.75 335.79V327.13h2.25V335.79zM517.5 335.51V326.91h2.25V335.51zM520.25 335.13V326.59h2.25V335.13zM523 334.63V326.18h2.25V334.63zM525.75 334.13V325.77h2.25V334.13zM528.5 333.63V325.36h2.25V333.63zM531.25 333.13V324.94h2.25V333.13zM534 332.63V324.53h2.25V332.63zM536.75 332.14V324.12h2.25V332.14zM539.5 331.66V323.7h2.25V331.66zM542.25 331.24V323.24h2.25V331.24zM545 330.82V322.79h2.25V330.82zM547.75 330.41V322.34h2.25V330.41zM550.5 329.99V321.88h2.25V329.99zM553.25 329.58V321.43h2.25V329.58zM556 329.16V320.97h2.25V329.16zM558.75 328.74V320.52h2.25V328.74zM561.5 328.2V319.83h2.25V328.2zM564.25 327.64V319.14h2.25V327.64zM567 327.09V318.44h2.25V327.09zM569.75 326.54V317.74h2.25V326.54zM572.5 325.93V317.05h2.25V325.93zM575.25 325.14V316.38h2.25V325.14zM578 324.35V315.71h2.25V324.35zM580.75 323.47V314.93h2.25V323.47zM583.5 322.55V314.09h2.25V322.55zM586.25 321.64V313.25h2.25V321.64zM589 320.72V312.41h2.25V320.72zM591.75 319.8V311.57h2.25V319.8zM594.5 318.88V310.73h2.25V318.88zM597.25 317.96V309.9h2.25V317.96zM600 317.02V309.01h2.25V317.02zM602.75 316.04V308.06h2.25V316.04zM605.5 315.07V307.11h2.25V315.07zM608.25 314.1V306.17h2.25V314.1zM611 313.12V305.22h2.25V313.12zM613.75 312.15V304.27h2.25V312.15zM616.5 311.17V303.32h2.25V311.17zM619.25 310.19V302.38h2.25V310.19zM622 309.1V301.52h2.25V309.1zM624.75 308.02V300.65h2.25V308.02zM627.5 306.93V299.78h2.25V306.93zM630.25 305.85V298.92h2.25V305.85zM633 304.77V298.05h2.25V304.77zM635.75 303.68V297.18h2.25V303.68zM638.5 302.6V296.32h2.25V302.6zM641.25 301.62V295.25h2.25V301.62zM644 300.65V294.15h2.25V300.65zM646.75 299.69V293.05h2.25V299.69zM649.5 298.73V291.95h2.25V298.73zM652.25 297.63V290.8h2.25V297.63zM655 295.7V289.3h2.25V295.7zM657.75 293.76V287.81h2.25V293.76zM660.5 292.02V286.03h2.25V292.02zM663.25 290.41V284.05h2.25V290.41zM666 288.8V282.07h2.25V288.8zM668.75 287.2V280.09h2.25V287.2zM671.5 285.12V278.06h2.25V285.12zM674.25 283.02V276.02h2.25V283.02zM677 280.92V273.99h2.25V280.92zM679.75 278.74V271.76h2.25V278.74zM682.5 276.42V269.12h2.25V276.42zM685.25 274.1V266.48h2.25V274.1zM688 271.78V263.84h2.25V271.78zM690.75 268.73V260.84h2.25V268.73zM693.5 265.33V257.68h2.25V265.33zM696.25 261.94V254.52h2.25V261.94zM699 258.54V251.34h2.25V258.54zM701.75 254.94V247.93h2.25V254.94zM704.5 251.35V244.52h2.25V251.35zM707.25 247.75V241.1h2.25V247.75zM710 244.16V237.69h2.25V244.16zM712.75 240.59V234.19h2.25V240.59zM715.5 237.04V230.66h2.25V237.04zM718.25 233.49V227.14h2.25V233.49zM721 229.94V223.61h2.25V229.94zM723.75 226.09V219.79h2.25V226.09zM726.5 221.61V215.34h2.25V221.61zM729.25 217.26V211.01h2.25V217.26zM732 213.79V207.41h2.25V213.79zM734.75 210.32V203.82h2.25V210.32zM737.5 206.02V199.46h2.25V206.02zM740.25 197.35V190.16h2.25V197.35zM743 192.15V185.49h2.25V192.15zM745.75 188.82V182.36h2.25V188.82zM748.5 186.37V179.95h2.25V186.37zM751.25 183.92V177.55h2.25V183.92zM754 181.21V174.48h2.25V181.21zM756.75 178.42V171.21h2.25V178.42zM759.5 175.62V167.95h2.25V175.62zM762.25 173.41V165.05h2.25V173.41zM765 171.29V162.2h2.25V171.29zM767.75 169.17V159.36h2.25V169.17zM770.5 167.47V156.93h2.25V167.47zM773.25 166.08V154.79h2.25V166.08zM776 164.68V152.64h2.25V164.68zM778.75 163.28V150.5h2.25V163.28zM781.5 162.41V149.19h2.25V162.41zM784.25 161.56V147.93h2.25V161.56zM787 160.71V146.66h2.25V160.71zM789.75 159.8V145.4h2.25V159.8zM792.5 158.76V144.13h2.25V158.76zM795.25 157.72V142.87h2.25V157.72zM798 156.68V141.6h2.25V156.68zM800.75 155.79V140.6h2.25V155.79zM803.5 154.97V139.72h2.25V154.97zM806.25 154.15V138.84h2.25V154.15zM809 153.33V137.97h2.25V153.33zM811.75 152.6V137.28h2.25V152.6zM814.5 151.86V136.59h2.25V151.86zM817.25 151.12V135.91h2.25V151.12zM820 150.24V135.05h2.25V150.24zM822.75 149.16V133.96h2.25V149.16zM825.5 148.07V132.87h2.25V148.07zM828.25 146.98V131.78h2.25V146.98zM831 145.9V130.69h2.25V145.9zM833.75 144.81V129.6h2.25V144.81zM836.5 143.72V128.51h2.25V143.72zM839.25 142.64V127.42h2.25V142.64zM842 141.55V126.33h2.25V141.55zM844.75 140.47V125.24h2.25V140.47zM847.5 139.38V124.15h2.25V139.38zM850.25 138.43V122.97h2.25V138.43zM853 137.63V121.7h2.25V137.63zM855.75 136.82V120.43h2.25V136.82zM858.5 136.02V119.17h2.25V136.02zM861.25 135.21V117.9h2.25V135.21zM864 134.4V116.63h2.25V134.4z"/>
<path fill="#ea3a2e" d="M127 352.7V352.07h2.25V352.7zM129.75 352.7V352.06h2.25V352.7zM132.5 352.7V352.06h2.25V352.7zM135.25 352.7V352.05h2.25V352.7zM138 352.7V352.04h2.25V352.7zM140.75 352.7V352.03h2.25V352.7zM143.5 352.7V352.02h2.25V352.7zM146.25 352.7V352.01h2.25V352.7zM149 352.7V352h2.25V352.7zM151.75 352.7V351.97h2.25V352.7zM154.5 352.7V351.93h2.25V352.7zM157.25 352.7V351.9h2.25V352.7zM160 352.7V351.87h2.25V352.7zM162.75 352.7V351.83h2.25V352.7zM165.5 352.7V351.8h2.25V352.7zM168.25 352.7V351.77h2.25V352.7zM171 352.7V351.73h2.25V352.7zM173.75 352.7V351.7h2.25V352.7zM176.5 352.7V351.63h2.25V352.7zM179.25 352.7V351.57h2.25V352.7zM182 352.7V351.5h2.25V352.7zM184.75 352.7V351.5h2.25V352.7zM187.5 352.7V351.52h2.25V352.7zM190.25 352.7V351.54h2.25V352.7zM193 352.7V351.56h2.25V352.7zM195.75 352.7V351.58h2.25V352.7zM198.5 352.7V351.6h2.25V352.7zM201.25 352.7V351.62h2.25V352.7zM204 352.7V351.65h2.25V352.7zM206.75 352.7V351.68h2.25V352.7zM209.5 352.7V351.71h2.25V352.7zM212.25 352.7V351.73h2.25V352.7zM215 352.7V351.76h2.25V352.7zM217.75 352.7V351.79h2.25V352.7zM220.5 352.7V351.82h2.25V352.7zM223.25 352.7V351.84h2.25V352.7zM226 352.7V351.87h2.25V352.7zM228.75 352.7V351.9h2.25V352.7zM231.5 352.7V351.91h2.25V352.7zM234.25 352.7V351.93h2.25V352.7zM237 352.7V351.94h2.25V352.7zM239.75 352.7V351.95h2.25V352.7zM242.5 352.7V351.97h2.25V352.7zM245.25 352.7V351.98h2.25V352.7zM248 352.7V352h2.25V352.7zM250.75 352.7V352.01h2.25V352.7zM253.5 352.7V352.02h2.25V352.7zM256.25 352.7V352.04h2.25V352.7zM259 352.7V352.05h2.25V352.7zM261.75 352.7V352.05h2.25V352.7zM264.5 352.7V352.05h2.25V352.7zM267.25 352.7V352.05h2.25V352.7zM270 352.7V352.05h2.25V352.7zM272.75 352.7V352.05h2.25V352.7zM275.5 352.7V352.05h2.25V352.7zM278.25 352.7V352.05h2.25V352.7zM281 352.7V352.05h2.25V352.7zM283.75 352.7V352.05h2.25V352.7zM286.5 352.7V352.05h2.25V352.7zM289.25 352.7V352.05h2.25V352.7zM292 352.7V352.05h2.25V352.7zM294.75 352.7V352.05h2.25V352.7zM297.5 352.7V352.05h2.25V352.7zM300.25 352.7V352.05h2.25V352.7zM303 352.7V352.05h2.25V352.7zM305.75 352.7V352.05h2.25V352.7zM308.5 352.7V352.05h2.25V352.7zM311.25 352.7V352.05h2.25V352.7zM314 352.7V352.05h2.25V352.7zM316.75 352.7V352.05h2.25V352.7zM319.5 352.7V352.05h2.25V352.7zM322.25 352.7V352.05h2.25V352.7zM325 352.7V352.05h2.25V352.7zM327.75 352.7V352.05h2.25V352.7zM330.5 352.7V352.05h2.25V352.7zM333.25 352.7V352.05h2.25V352.7zM336 352.7V352.05h2.25V352.7zM338.75 352.7V352.05h2.25V352.7zM341.5 352.7V352.05h2.25V352.7zM344.25 352.7V352.05h2.25V352.7zM347 352.7V352.05h2.25V352.7zM349.75 352.7V352.05h2.25V352.7zM352.5 352.7V352.05h2.25V352.7zM355.25 352.7V352.05h2.25V352.7zM358 352.7V352.05h2.25V352.7zM360.75 352.7V352.05h2.25V352.7zM363.5 352.7V352.05h2.25V352.7zM366.25 352.7V352.05h2.25V352.7zM369 352.7V352.05h2.25V352.7zM371.75 352.7V352.05h2.25V352.7zM374.5 352.7V352.05h2.25V352.7zM377.25 352.7V352.05h2.25V352.7zM380 352.7V352.05h2.25V352.7zM382.75 352.7V352.05h2.25V352.7zM385.5 352.7V352.05h2.25V352.7zM388.25 352.7V352.05h2.25V352.7zM391 352.7V352.05h2.25V352.7zM393.75 352.7V352.05h2.25V352.7zM396.5 352.7V352.05h2.25V352.7zM399.25 352.7V352.05h2.25V352.7zM402 352.7V352.05h2.25V352.7zM404.75 352.7V352.05h2.25V352.7zM407.5 352.7V352.05h2.25V352.7zM410.25 352.7V352.05h2.25V352.7zM413 352.7V352.05h2.25V352.7zM415.75 352.7V352.05h2.25V352.7zM418.5 352.7V352.05h2.25V352.7zM421.25 352.7V352.05h2.25V352.7zM424 352.7V352.04h2.25V352.7zM426.75 352.7V352.04h2.25V352.7zM429.5 352.7V352.03h2.25V352.7zM432.25 352.7V352.02h2.25V352.7zM435 352.7V352.02h2.25V352.7zM437.75 352.7V352.01h2.25V352.7zM440.5 352.7V352.01h2.25V352.7zM443.25 352.7V352h2.25V352.7zM446 352.7V352h2.25V352.7zM448.75 352.7V351.99h2.25V352.7zM451.5 352.7V351.99h2.25V352.7zM454.25 352.7V351.98h2.25V352.7zM457 352.7V351.98h2.25V352.7zM459.75 352.7V351.97h2.25V352.7zM462.5 352.7V351.97h2.25V352.7zM465.25 352.7V351.96h2.25V352.7zM468 352.7V351.96h2.25V352.7zM470.75 352.7V351.95h2.25V352.7zM473.5 352.7V351.95h2.25V352.7zM476.25 352.7V351.94h2.25V352.7zM479 352.7V351.94h2.25V352.7zM481.75 352.7V351.93h2.25V352.7zM484.5 352.7V351.93h2.25V352.7zM487.25 352.7V351.92h2.25V352.7zM490 352.7V351.92h2.25V352.7zM492.75 352.7V351.91h2.25V352.7zM495.5 352.7V351.91h2.25V352.7zM498.25 352.7V351.9h2.25V352.7zM501 352.7V351.88h2.25V352.7zM503.75 352.7V351.86h2.25V352.7zM506.5 352.7V351.84h2.25V352.7zM509.25 352.7V351.81h2.25V352.7zM512 352.7V351.79h2.25V352.7zM514.75 352.7V351.77h2.25V352.7zM517.5 352.7V351.74h2.25V352.7zM520.25 352.7V351.72h2.25V352.7zM523 352.7V351.7h2.25V352.7zM525.75 352.7V351.68h2.25V352.7zM528.5 352.7V351.65h2.25V352.7zM531.25 352.7V351.63h2.25V352.7zM534 352.7V351.61h2.25V352.7zM536.75 352.7V351.58h2.25V352.7zM539.5 352.7V351.56h2.25V352.7zM542.25 352.7V351.54h2.25V352.7zM545 352.7V351.52h2.25V352.7zM547.75 352.7V351.49h2.25V352.7zM550.5 352.7V351.47h2.25V352.7zM553.25 352.7V351.45h2.25V352.7zM556 352.7V351.42h2.25V352.7zM558.75 352.7V351.4h2.25V352.7zM561.5 352.7V351.39h2.25V352.7zM564.25 352.7V351.37h2.25V352.7zM567 352.7V351.36h2.25V352.7zM569.75 352.7V351.35h2.25V352.7zM572.5 352.7V351.33h2.25V352.7zM575.25 352.7V351.32h2.25V352.7zM578 352.7V351.3h2.25V352.7zM580.75 352.7V351.29h2.25V352.7zM583.5 352.7V351.28h2.25V352.7zM586.25 352.7V351.26h2.25V352.7zM589 352.7V351.25h2.25V352.7zM591.75 352.7V351.24h2.25V352.7zM594.5 352.7V351.22h2.25V352.7zM597.25 352.7V351.21h2.25V352.7zM600 352.7V351.36h2.25V352.7zM602.75 352.7V351.17h2.25V352.7zM605.5 352.7V350.98h2.25V352.7zM608.25 352.7V350.93h2.25V352.7zM611 352.7V351.05h2.25V352.7zM613.75 352.7V351.24h2.25V352.7zM616.5 352.7V351.35h2.25V352.7zM619.25 352.7V351.28h2.25V352.7zM622 352.7V351.07h2.25V352.7zM624.75 352.7V350.87h2.25V352.7zM627.5 352.7V350.81h2.25V352.7zM630.25 352.7V350.94h2.25V352.7zM633 352.7V351.15h2.25V352.7zM635.75 352.7V351.27h2.25V352.7zM638.5 352.7V351.2h2.25V352.7zM641.25 352.7V350.94h2.25V352.7zM644 352.7V350.67h2.25V352.7zM646.75 352.7V350.55h2.25V352.7zM649.5 352.7V350.66h2.25V352.7zM652.25 352.7V350.88h2.25V352.7zM655 352.7V351.01h2.25V352.7zM657.75 352.7V350.88h2.25V352.7zM660.5 352.7V350.54h2.25V352.7zM663.25 352.7V350.16h2.25V352.7zM666 352.7V350h2.25V352.7zM668.75 352.7V350.14h2.25V352.7zM671.5 352.7V350.43h2.25V352.7zM674.25 352.7V350.58h2.25V352.7zM677 352.7V350.41h2.25V352.7zM679.75 352.7V349.91h2.25V352.7zM682.5 352.7V349.27h2.25V352.7zM685.25 352.7V348.91h2.25V352.7zM688 352.7V349.01h2.25V352.7zM690.75 352.7V349.38h2.25V352.7zM693.5 352.7V349.56h2.25V352.7zM696.25 352.7V349.03h2.25V352.7zM699 352.7V347.88h2.25V352.7zM701.75 352.7V346.84h2.25V352.7zM704.5 352.7V346.86h2.25V352.7zM707.25 352.7V347.57h2.25V352.7zM710 352.7V348.52h2.25V352.7zM712.75 352.7V349.1h2.25V352.7zM715.5 352.7V348.77h2.25V352.7zM718.25 352.7V347.69h2.25V352.7zM721 352.7V346.51h2.25V352.7zM723.75 352.7V345.91h2.25V352.7zM726.5 352.7V346.16h2.25V352.7zM729.25 352.7V347.27h2.25V352.7zM732 352.7V347.99h2.25V352.7zM734.75 352.7V347.82h2.25V352.7zM737.5 352.7V346.43h2.25V352.7zM740.25 352.7V343.22h2.25V352.7zM743 352.7V345.8h2.25V352.7zM745.75 352.7V348.37h2.25V352.7zM748.5 352.7V349.76h2.25V352.7zM751.25 352.7V350.18h2.25V352.7zM754 352.7V350.16h2.25V352.7zM756.75 352.7V349.87h2.25V352.7zM759.5 352.7V349.63h2.25V352.7zM762.25 352.7V349.66h2.25V352.7zM765 352.7V350.01h2.25V352.7zM767.75 352.7V350.47h2.25V352.7zM770.5 352.7V350.75h2.25V352.7zM773.25 352.7V350.73h2.25V352.7zM776 352.7V350.5h2.25V352.7zM778.75 352.7V350.31h2.25V352.7zM781.5 352.7V350.31h2.25V352.7zM784.25 352.7V350.55h2.25V352.7zM787 352.7V350.87h2.25V352.7zM789.75 352.7V351.07h2.25V352.7zM792.5 352.7V351.04h2.25V352.7zM795.25 352.7V350.83h2.25V352.7zM798 352.7V350.65h2.25V352.7zM800.75 352.7V350.62h2.25V352.7zM803.5 352.7V350.77h2.25V352.7zM806.25 352.7V351.01h2.25V352.7zM809 352.7V351.15h2.25V352.7zM811.75 352.7V351.08h2.25V352.7zM814.5 352.7V350.84h2.25V352.7zM817.25 352.7V350.6h2.25V352.7zM820 352.7V350.54h2.25V352.7zM822.75 352.7V350.7h2.25V352.7zM825.5 352.7V350.95h2.25V352.7zM828.25 352.7V351.1h2.25V352.7zM831 352.7V351.04h2.25V352.7zM833.75 352.7V350.81h2.25V352.7zM836.5 352.7V350.6h2.25V352.7zM839.25 352.7V350.57h2.25V352.7zM842 352.7V350.76h2.25V352.7zM844.75 352.7V351.02h2.25V352.7zM847.5 352.7V351.18h2.25V352.7zM850.25 352.7V351.13h2.25V352.7zM853 352.7V350.92h2.25V352.7zM855.75 352.7V350.72h2.25V352.7zM858.5 352.7V350.7h2.25V352.7zM861.25 352.7V350.87h2.25V352.7zM864 352.7V351.12h2.25V352.7z"/>
<g class="yl"><text x="77.3" y="363.2" textLength="7.2" lengthAdjust="spacingAndGlyphs">0</text><text x="77.3" y="316.5" textLength="43.2" lengthAdjust="spacingAndGlyphs">500000</text><text x="77.3" y="269.8" textLength="50.4" lengthAdjust="spacingAndGlyphs">1000000</text><text x="77.3" y="223.1" textLength="50.4" lengthAdjust="spacingAndGlyphs">1500000</text><text x="77.3" y="176.4" textLength="50.4" lengthAdjust="spacingAndGlyphs">2000000</text><text x="77.3" y="129.7" textLength="50.4" lengthAdjust="spacingAndGlyphs">2500000</text><text x="77.3" y="83" textLength="50.4" lengthAdjust="spacingAndGlyphs">3000000</text></g>
<g class="xl"><text x="86.45" y="376.8" textLength="13.1" lengthAdjust="spacingAndGlyphs">3/01</text><text x="97.45" y="376.8" textLength="13.1" lengthAdjust="spacingAndGlyphs">3/05</text><text x="111.15" y="376.8" textLength="13.1" lengthAdjust="spacingAndGlyphs">3/10</text><text x="124.85" y="376.8" textLength="13.1" lengthAdjust="spacingAndGlyphs">3/15</text><text x="138.55" y="376.8" textLength="13.1" lengthAdjust="spacingAndGlyphs">3/20</text><text x="152.25" y="376.8" textLength="13.1" lengthAdjust="spacingAndGlyphs">3/25</text><text x="165.95" y="376.8" textLength="13.1" lengthAdjust="spacingAndGlyphs">3/30</text><text x="182.45" y="376.8" textLength="13.1" lengthAdjust="spacingAndGlyphs">4/05</text><text x="196.15" y="376.8" textLength="13.1" lengthAdjust="spacingAndGlyphs">4/10</text><text x="209.85" y="376.8" textLength="13.1" lengthAdjust="spacingAndGlyphs">4/15</text><text x="223.55" y="376.8" textLength="13.1" lengthAdjust="spacingAndGlyphs">4/20</text><text x="237.25" y="376.8" textLength="13.1" lengthAdjust="spacingAndGlyphs">4/25</text><text x="253.75" y="376.8" textLength="13.1" lengthAdjust="spacingAndGlyphs">5/01</text><text x="264.75" y="376.8" textLength="13.1" lengthAdjust="spacingAndGlyphs">5/05</text><text x="278.45" y="376.8" textLength="13.1" lengthAdjust="spacingAndGlyphs">5/10</text><text x="291.85" y="376.8" textLength="13.1" lengthAdjust="spacingAndGlyphs">5/15</text><text x="305.05" y="376.8" textLength="13.1" lengthAdjust="spacingAndGlyphs">5/20</text><text x="319.05" y="376.8" textLength="13.1" lengthAdjust="spacingAndGlyphs">5/25</text><text x="332.45" y="376.8" textLength="13.1" lengthAdjust="spacingAndGlyphs">5/30</text><text x="349.45" y="376.8" textLength="13.1" lengthAdjust="spacingAndGlyphs">6/05</text><text x="362.95" y="376.8" textLength="13.1" lengthAdjust="spacingAndGlyphs">6/10</text><text x="376.75" y="376.8" textLength="13.1" lengthAdjust="spacingAndGlyphs">6/15</text><text x="390.45" y="376.8" textLength="13.1" lengthAdjust="spacingAndGlyphs">6/20</text><text x="404.15" y="376.8" textLength="13.1" lengthAdjust="spacingAndGlyphs">6/25</text><text x="423.95" y="376.8" textLength="13.1" lengthAdjust="spacingAndGlyphs">7/06</text><text x="437.15" y="376.8" textLength="13.1" lengthAdjust="spacingAndGlyphs">7/13</text><text x="450.45" y="376.8" textLength="13.1" lengthAdjust="spacingAndGlyphs">7/20</text><text x="463.45" y="376.8" textLength="13.1" lengthAdjust="spacingAndGlyphs">7/27</text><text x="476.15" y="376.8" textLength="13.1" lengthAdjust="spacingAndGlyphs">8/03</text><text x="489.25" y="376.8" textLength="13.1" lengthAdjust="spacingAndGlyphs">8/10</text><text x="508.65" y="376.8" textLength="13.1" lengthAdjust="spacingAndGlyphs">8/17</text><text x="527.95" y="376.8" textLength="13.1" lengthAdjust="spacingAndGlyphs">8/24</text><text x="547.45" y="376.8" textLength="13.1" lengthAdjust="spacingAndGlyphs">8/31</text><text x="566.95" y="376.8" textLength="13.1" lengthAdjust="spacingAndGlyphs">9/07</text><text x="586.45" y="376.8" textLength="13.1" lengthAdjust="spacingAndGlyphs">9/14</text><text x="605.45" y="376.8" textLength="13.1" lengthAdjust="spacingAndGlyphs">9/21</text><text x="624.95" y="376.8" textLength="13.1" lengthAdjust="spacingAndGlyphs">9/28</text><text x="642.9" y="376.8" textLength="16.2" lengthAdjust="spacingAndGlyphs">10/05</text><text x="661.9" y="376.8" textLength="16.2" lengthAdjust="spacingAndGlyphs">10/12</text><text x="681.5" y="376.8" textLength="16.2" lengthAdjust="spacingAndGlyphs">10/19</text><text x="700.9" y="376.8" textLength="16.2" lengthAdjust="spacingAndGlyphs">10/26</text><text x="719.9" y="376.8" textLength="16.2" lengthAdjust="spacingAndGlyphs">11/02</text><text x="739.5" y="376.8" textLength="16.2" lengthAdjust="spacingAndGlyphs">11/09</text><text x="758.5" y="376.8" textLength="16.2" lengthAdjust="spacingAndGlyphs">11/16</text><text x="777.6" y="376.8" textLength="16.2" lengthAdjust="spacingAndGlyphs">11/23</text><text x="796.9" y="376.8" textLength="16.2" lengthAdjust="spacingAndGlyphs">11/30</text><text x="816.1" y="376.8" textLength="16.2" lengthAdjust="spacingAndGlyphs">12/07</text><text x="835.2" y="376.8" textLength="16.2" lengthAdjust="spacingAndGlyphs">12/14</text><text x="854.4" y="376.8" textLength="16.2" lengthAdjust="spacingAndGlyphs">12/21</text></g>
<g class="lg">
<rect x="129" y="80.5" width="14.5" height="14.5" fill="#e8202a"/><text x="147.5" y="91.5">新增确诊</text>
<rect x="193" y="80.5" width="14.5" height="14.5" fill="#1b3566"/><text x="211.5" y="91.5">现有确诊</text>
<rect x="257.5" y="81" width="14" height="14" fill="#fff" stroke="#bdbdbd" stroke-width="1"/><text x="276" y="91.5">死亡</text>
<rect x="304" y="80.5" width="14.5" height="14.5" fill="#dde02e"/><text x="322.5" y="91.5">治愈</text>
</g>
<text x="258" y="51.4" font-size="28.6" font-weight="900" fill="#152b5c" stroke="#152b5c" stroke-width="0.5" textLength="307" lengthAdjust="spacingAndGlyphs">新冠病毒法国疫情趋势</text>
<text x="570" y="39.3" font-family="'Liberation Serif','Noto Serif CJK SC',serif" font-size="8.3" font-weight="900" fill="#222">欧洲时报 制图</text>
<text x="569.5" y="54.2" font-size="12.8" fill="#d0302f" stroke="#d0302f" stroke-width="0.2" textLength="93.5" lengthAdjust="spacingAndGlyphs">2020/12/22 20H00</text>
<text x="665" y="52.6" font-size="5.6" font-weight="700" fill="#d0302f">（巴黎时间）</text>
<text x="541.5" y="401" font-size="10.2" font-weight="700" fill="#222" textLength="332" lengthAdjust="spacing">** 包含ESMS社会机构和社会医疗机构（养老院、残疾人接待机构）等数据</text>
</svg>
</body></html>
